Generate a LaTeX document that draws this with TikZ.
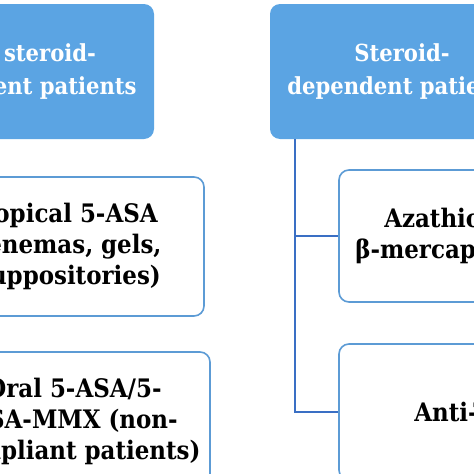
\documentclass[tikz,border=0pt]{standalone}
\usepackage{fontspec}
\setmainfont{DejaVu Serif Condensed}
\usetikzlibrary{positioning}
\definecolor{headblue}{RGB}{91,164,227}
\definecolor{edgeblue}{RGB}{92,155,213}
\definecolor{lineblue}{RGB}{58,111,196}

\begin{document}
\begin{tikzpicture}[x=1pt, y=-1pt,
    head/.style={draw=none, fill=headblue, rounded corners=10pt, text=white,
        minimum width=264pt, minimum height=135pt, align=center,
        font=\bfseries\fontsize{23.5}{33}\selectfont},
    drug/.style={draw=edgeblue, line width=1.6pt, fill=white, rounded corners=10pt,
        minimum width=264pt, minimum height=134pt, align=center,
        font=\bfseries\fontsize{25.5}{31}\selectfont},
    link/.style={draw=lineblue, line width=1.6pt}]
    \useasboundingbox (0,0) rectangle (474,474);
    \clip (0,0) rectangle (474,474);

    % headers
    \node[head] (nonsd) at (22,71.5) {Non steroid-\\dependent patients};
    \node[head] (sd) at (402,71.5) {Steroid-\\dependent patients};

    % left column
    \node[drug, minimum width=270pt, minimum height=139pt] (topical) at (69,246.5) {Topical 5-ASA\\(enemas, gels,\\suppositories)};
    \node[drug, minimum width=272pt, minimum height=139pt] (oral) at (74,421.5) {Oral 5-ASA/5-\\ASA-MMX (non-\\compliant patients)};

    % right column
    \node[drug, minimum height=132pt] (aza) at (471,236) {Azathioprine/\\β-mercaptopurine};
    \node[drug, minimum height=136pt] (antitnf) at (471,412) {Anti-TNF};

    \coordinate (ltrunk) at ([xshift=25pt]nonsd.south west);
    \coordinate (rtrunk) at ([xshift=25pt]sd.south west);
    \draw[link] (ltrunk) |- (topical.west);
    \draw[link] (ltrunk) |- (oral.west);
    \draw[link] (rtrunk) |- (aza.west);
    \draw[link] (rtrunk) |- (antitnf.west);
\end{tikzpicture}
\end{document}
